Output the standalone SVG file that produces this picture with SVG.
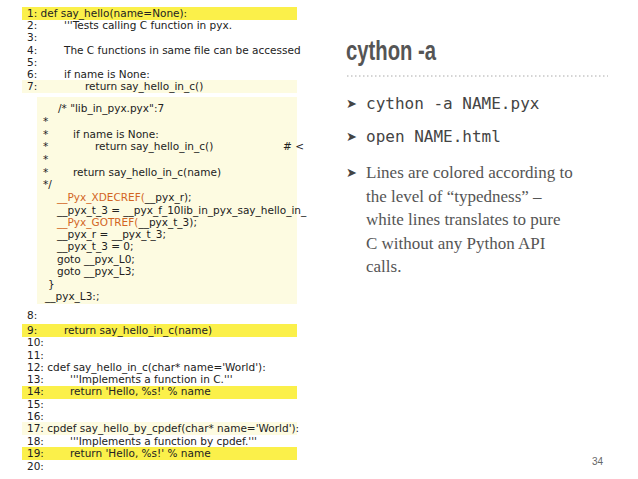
<svg xmlns="http://www.w3.org/2000/svg" width="638" height="479" viewBox="0 0 638 479">
<style>
.c{font-family:"DejaVu Sans","Liberation Sans",sans-serif;font-size:10.5px;fill:#222;white-space:pre}
.o{fill:#d2651f}
.hy{fill:#fbf04a}
.hp{fill:#fdfbe1}
.m{font-family:"DejaVu Sans Mono","Liberation Mono",monospace;font-size:16px;fill:#444}
.s{font-family:"Liberation Serif",serif;font-size:17px;fill:#555}
.b{font-family:"DejaVu Sans",sans-serif;font-size:13px;fill:#444}
</style>
<rect width="638" height="479" fill="#fff"/>
<g id="code">
<rect class="hy" x="22" y="7" width="275" height="13"/>
<rect class="hp" x="22" y="80" width="275" height="13"/>
<rect class="hp" x="37" y="97" width="260" height="207"/>
<rect class="hy" x="22" y="324" width="275" height="13"/>
<rect class="hy" x="22" y="386" width="275" height="13"/>
<rect class="hp" x="22" y="422" width="275" height="13"/>
<rect class="hy" x="22" y="447" width="275" height="13"/>
<text class="c" x="27" y="17">1: def say_hello(name=None):</text>
<text class="c" x="27" y="29">2:</text><text class="c" x="64" y="29">'''Tests calling C function in pyx.</text>
<text class="c" x="27" y="41">3:</text>
<text class="c" x="27" y="54">4:</text><text class="c" x="64" y="54">The C functions in same file can be accessed</text>
<text class="c" x="27" y="66">5:</text>
<text class="c" x="27" y="78">6:</text><text class="c" x="64" y="78">if name is None:</text>
<text class="c" x="27" y="90">7:</text><text class="c" x="85" y="90">return say_hello_in_c()</text>
<text class="c" x="58" y="112">/* "lib_in_pyx.pyx":7</text>
<text class="c" x="43" y="125">*</text>
<text class="c" x="43" y="138">*</text><text class="c" x="73" y="138">if name is None:</text>
<text class="c" x="43" y="150">*</text><text class="c" x="95" y="150">return say_hello_in_c()</text><text class="c" x="283" y="150"># &lt;</text>
<text class="c" x="43" y="163">*</text>
<text class="c" x="43" y="176">*</text><text class="c" x="73" y="176">return say_hello_in_c(name)</text>
<text class="c" x="43" y="188">*/</text>
<text class="c o" x="57" y="201">__Pyx_XDECREF(<tspan fill="#222">__pyx_r);</tspan></text>
<text class="c" x="57" y="214">__pyx_t_3 = __pyx_f_10lib_in_pyx_say_hello_in_</text>
<text class="c o" x="57" y="226">__Pyx_GOTREF(<tspan fill="#222">__pyx_t_3);</tspan></text>
<text class="c" x="57" y="238">__pyx_r = __pyx_t_3;</text>
<text class="c" x="57" y="250">__pyx_t_3 = 0;</text>
<text class="c" x="57" y="263">goto __pyx_L0;</text>
<text class="c" x="57" y="275">goto __pyx_L3;</text>
<text class="c" x="48" y="288">}</text>
<text class="c" x="45" y="300">__pyx_L3:;</text>
<text class="c" x="27" y="319">8:</text>
<text class="c" x="27" y="334">9:</text><text class="c" x="64" y="334">return say_hello_in_c(name)</text>
<text class="c" x="27" y="346">10:</text>
<text class="c" x="27" y="359">11:</text>
<text class="c" x="27" y="371">12: cdef say_hello_in_c(char* name='World'):</text>
<text class="c" x="27" y="383">13:</text><text class="c" x="70" y="383">'''Implements a function in C.'''</text>
<text class="c" x="27" y="395">14:</text><text class="c" x="70" y="395">return 'Hello, %s!' % name</text>
<text class="c" x="27" y="408">15:</text>
<text class="c" x="27" y="420">16:</text>
<text class="c" x="27" y="432">17: cpdef say_hello_by_cpdef(char* name='World'):</text>
<text class="c" x="27" y="445">18:</text><text class="c" x="70" y="445">'''Implements a function by cpdef.'''</text>
<text class="c" x="27" y="457">19:</text><text class="c" x="70" y="457">return 'Hello, %s!' % name</text>
<text class="c" x="27" y="470">20:</text>
</g>
<g id="title">
<text x="346" y="60" font-family="Liberation Sans, sans-serif" font-weight="bold" font-size="27" fill="#555" textLength="90" lengthAdjust="spacingAndGlyphs">cython -a</text>
<line x1="347" y1="76" x2="608" y2="76" stroke="#aaa" stroke-width="1" stroke-dasharray="1.5 2.5"/>
</g>
<g id="bullets">
<text class="b" x="346" y="108">➤</text><text class="m" x="366" y="109">cython -a NAME.pyx</text>
<text class="b" x="346" y="141">➤</text><text class="m" x="366" y="142">open NAME.html</text>
<text class="b" x="346" y="177">➤</text>
<text class="s" x="366" y="178">Lines are colored according to</text>
<text class="s" x="366" y="202">the level of “typedness” –</text>
<text class="s" x="366" y="225">white lines translates to pure</text>
<text class="s" x="366" y="249">C without any Python API</text>
<text class="s" x="366" y="272">calls.</text>
</g>
<text x="592" y="465" font-family="Liberation Sans, sans-serif" font-size="10" fill="#666">34</text>
</svg>
